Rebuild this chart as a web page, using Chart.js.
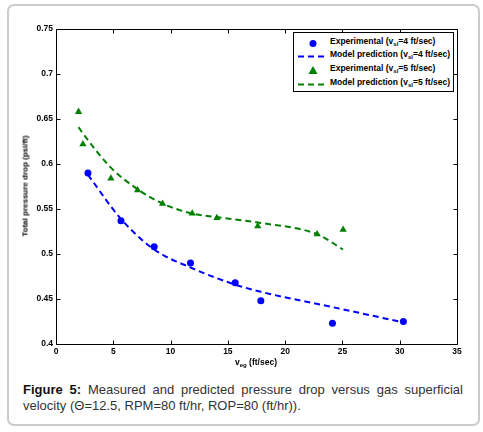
<!DOCTYPE html>
<html><head><meta charset="utf-8">
<script src="https://cdn.jsdelivr.net/npm/chart.js@4.4.1/dist/chart.umd.min.js"></script>
<style>
html,body{margin:0;padding:0;background:#fff;width:483px;height:432px;overflow:hidden;font-family:"Liberation Sans",Arial,Helvetica,sans-serif;}
#frame{position:absolute;left:7px;top:4px;width:473px;height:422px;border:2px solid #cbcbcb;border-radius:7px;box-sizing:border-box;}
#wrap{position:absolute;left:0;top:0;width:483px;height:375px;}
#ytitle{position:absolute;left:25px;top:186px;transform:translate(-50%,-50%) rotate(-90deg);white-space:nowrap;font-size:8px;font-weight:bold;color:#000;}
#xtitle{position:absolute;left:256px;top:362px;transform:translate(-50%,-50%);white-space:nowrap;font-size:8.5px;font-weight:bold;color:#000;}
sub{font-size:6px;vertical-align:-2px;line-height:0;}
#legend{position:absolute;left:293px;top:32px;width:161px;height:60px;border:1px solid #000;background:#fff;box-sizing:border-box;}
.item{position:absolute;left:0;height:12px;width:159px;}
.item .sym{position:absolute;left:4px;top:0;width:30px;height:12px;}
.item .txt{position:absolute;left:36px;top:0;line-height:12px;font-size:8.5px;font-weight:bold;color:#000;white-space:nowrap;}
#caption{position:absolute;left:23px;top:382px;width:440px;font-size:13px;line-height:16px;color:#333;}
#caption .l1{text-align:justify;text-align-last:justify;white-space:nowrap;}
#caption b{color:#111;}
</style>
</head><body>
<div id="frame"></div>
<div id="wrap"><canvas id="c" width="483" height="375" style="width:483px;height:375px"></canvas></div>
<div id="ytitle">Total pressure drop (psi/ft)</div>
<div id="xtitle">v<sub>eg</sub> (ft/sec)</div>
<div id="legend"></div>
<div id="caption">
<div class="l1"><b>Figure 5:</b> Measured and predicted pressure drop versus gas superficial</div>
<div class="l2">velocity (&#920;=12.5, RPM=80 ft/hr, ROP=80 (ft/hr)).</div>
</div>
<script>
// ---- data ----
const expX4 = [2.79, 5.67, 8.57, 11.74, 15.64, 17.88, 24.13, 30.32];
const expY4 = [0.590, 0.537, 0.508, 0.490, 0.468, 0.448, 0.423, 0.425];
const modX4 = [2.79, 5.67, 8.57, 11.74, 15.64, 17.88, 24.13, 30.32];
const modY4 = [0.588, 0.539, 0.505, 0.485, 0.466, 0.458, 0.441, 0.424];
const expX5 = [1.97, 2.35, 4.79, 7.12, 9.30, 11.89, 14.04, 17.61, 22.79, 25.06];
const expY5 = [0.658, 0.622, 0.584, 0.571, 0.556, 0.545, 0.540, 0.531, 0.522, 0.527];
const modX5 = [1.97, 2.35, 4.79, 7.12, 9.30, 11.89, 14.04, 17.61, 22.79, 25.06];
const modY5 = [0.641, 0.634, 0.596, 0.572, 0.556, 0.545, 0.541, 0.535, 0.522, 0.505];
const xTickLabels = ['0','5','10','15','20','25','30','35'];
const yTickLabels = ['0.4','0.45','0.5','0.55','0.6','0.65','0.7','0.75'];
const seriesNames = ['Experimental (v<sub>sl</sub>=4 ft/sec)','Model prediction (v<sub>sl</sub>=4 ft/sec)','Experimental (v<sub>sl</sub>=5 ft/sec)','Model prediction (v<sub>sl</sub>=5 ft/sec)'];

const BLUE = '#0000ff', GREEN = '#008000';
const pts = (xs, ys) => xs.map((x, i) => ({x: x, y: ys[i]}));
const FONT = '"Liberation Sans", Arial, Helvetica, sans-serif';

const framePlugin = {
  id: 'frame',
  afterDraw(chart) {
    const {ctx, chartArea: a, scales: {x, y}} = chart;
    const L = Math.round(a.left) + 0.5, R = Math.round(a.right) + 0.5;
    const T = Math.round(a.top) + 0.5, B = Math.round(a.bottom) + 0.5;
    ctx.save();
    ctx.strokeStyle = '#000';
    ctx.lineWidth = 1;
    ctx.beginPath();
    ctx.rect(L, T, R - L, B - T);
    const tl = 4;
    x.ticks.forEach(t => {
      const p = Math.round(x.getPixelForValue(t.value)) + 0.5;
      ctx.moveTo(p, B); ctx.lineTo(p, B - tl);
      ctx.moveTo(p, T); ctx.lineTo(p, T + tl);
    });
    y.ticks.forEach(t => {
      const p = Math.round(y.getPixelForValue(t.value)) + 0.5;
      ctx.moveTo(L, p); ctx.lineTo(L + tl, p);
      ctx.moveTo(R, p); ctx.lineTo(R - tl, p);
    });
    ctx.stroke();
    ctx.restore();
  }
};

const chart = new Chart(document.getElementById('c'), {
  type: 'scatter',
  data: {
    datasets: [
      {label: 'Experimental (vsl=4 ft/sec)', data: pts(expX4, expY4), pointStyle: 'circle', pointRadius: 3.5, backgroundColor: BLUE, borderColor: BLUE, borderWidth: 0, showLine: false, order: 0},
      {label: 'Model prediction (vsl=4 ft/sec)', data: pts(modX4, modY4), showLine: true, pointRadius: 0, borderColor: BLUE, borderWidth: 2, borderDash: [6, 4], cubicInterpolationMode: 'monotone', fill: false, order: 1},
      {label: 'Experimental (vsl=5 ft/sec)', data: pts(expX5, expY5), pointStyle: 'triangle', pointRadius: 4.2, backgroundColor: GREEN, borderColor: GREEN, borderWidth: 0, showLine: false, order: 0},
      {label: 'Model prediction (vsl=5 ft/sec)', data: pts(modX5, modY5), showLine: true, pointRadius: 0, borderColor: GREEN, borderWidth: 2, borderDash: [6, 4], cubicInterpolationMode: 'monotone', fill: false, order: 1}
    ]
  },
  options: {
    responsive: false,
    animation: false,
    layout: {padding: {top: 29, right: 26, left: 0, bottom: 0}},
    plugins: {legend: {display: false}, tooltip: {enabled: false}},
    scales: {
      x: {
        type: 'linear', min: 0, max: 35,
        grid: {display: false, drawTicks: false}, border: {display: false},
        afterFit: s => { s.height = 31; },
        ticks: {stepSize: 5, padding: 3, color: '#000', maxRotation: 0,
          font: {family: FONT, size: 8.5, weight: 'bold'},
          callback: (v) => xTickLabels[Math.round(v / 5)] ?? ''}
      },
      y: {
        type: 'linear', min: 0.4, max: 0.75,
        grid: {display: false, drawTicks: false}, border: {display: false},
        afterFit: s => { s.width = 56; },
        ticks: {stepSize: 0.05, padding: 3, color: '#000',
          font: {family: FONT, size: 8.5, weight: 'bold'},
          callback: (v) => yTickLabels[Math.round((v - 0.4) / 0.05)] ?? ''}
      }
    }
  },
  plugins: [framePlugin]
});

// HTML legend built from the chart's datasets
const leg = document.getElementById('legend');
const rowTops = [1.5, 15, 29, 43];
chart.data.datasets.forEach((ds, i) => {
  const item = document.createElement('div');
  item.className = 'item';
  item.style.top = rowTops[i] + 'px';
  let sym;
  if (ds.showLine) {
    sym = '<svg width="30" height="12"><line x1="0" y1="6.5" x2="30" y2="6.5" stroke="' + ds.borderColor + '" stroke-width="2" stroke-dasharray="6,4"/></svg>';
  } else if (ds.pointStyle === 'circle') {
    sym = '<svg width="30" height="12"><circle cx="15" cy="6.5" r="3.5" fill="' + ds.backgroundColor + '"/></svg>';
  } else {
    sym = '<svg width="30" height="12"><polygon points="15,2 19.5,10 10.5,10" fill="' + ds.backgroundColor + '"/></svg>';
  }
  item.innerHTML = '<div class="sym">' + sym + '</div><div class="txt">' + seriesNames[i] + '</div>';
  leg.appendChild(item);
});
</script>
</body></html>
